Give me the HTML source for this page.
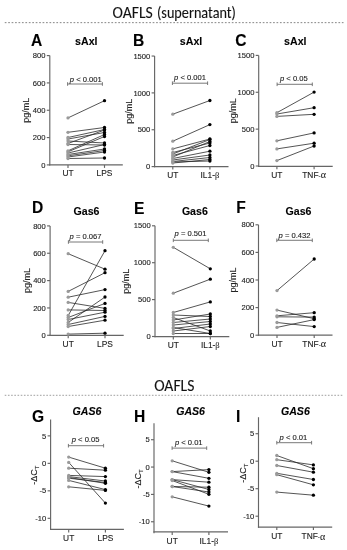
<!DOCTYPE html>
<html><head><meta charset="utf-8"><title>OAFLS figure</title>
<style>
html,body{margin:0;padding:0;background:#fff;}
body{width:347px;height:550px;overflow:hidden;}
svg{display:block;}
text{font-family:"Liberation Sans", Arial, Helvetica, sans-serif;fill:#222;stroke:#222;stroke-width:0.12px;}
.L{font-size:15.6px;font-weight:bold;fill:#000;}
.T{font-size:10.6px;font-weight:bold;text-anchor:middle;fill:#000;}
.Ti{font-size:10.6px;font-weight:bold;font-style:italic;text-anchor:middle;fill:#000;}
.tk{font-size:7.6px;text-anchor:end;}
.xl{font-size:8.4px;text-anchor:middle;}
.yl{font-size:9.0px;text-anchor:middle;}
.gk{font-family:"Liberation Serif",serif;stroke-width:0.05px;}
.pv{font-size:7.6px;text-anchor:middle;}
.hd{font-family:Carlito, Calibri, "Liberation Sans", sans-serif;font-size:15.6px;fill:#111;}
.ax{stroke:#666;stroke-width:1.15;fill:none;}
.br{stroke:#6a6a6a;stroke-width:0.9;fill:none;}
.dl{stroke:#2a2a2a;stroke-width:0.8;}
.du{fill:#9a9a9a;}
.dt{fill:#000;}
.ds{stroke:#777;stroke-width:0.9;stroke-dasharray:1.72 1.72;fill:none;}
.ds2{stroke:#888;stroke-width:0.8;stroke-dasharray:1.6 1.6;fill:none;}
</style></head>
<body><svg width="347" height="550" viewBox="0 0 347 550">
<text x="112.45" y="17.7" class="hd" textLength="40.25" lengthAdjust="spacingAndGlyphs">OAFLS</text>
<text x="157.0" y="17.7" class="hd" textLength="78.9" lengthAdjust="spacingAndGlyphs">(supernatant)</text>
<line x1="4.75" y1="22.65" x2="343.5" y2="22.65" class="ds"/>
<text x="154.15" y="390.75" class="hd" textLength="40.25" lengthAdjust="spacingAndGlyphs">OAFLS</text>
<line x1="4.74" y1="395.3" x2="343.5" y2="395.3" class="ds2"/>
<text x="31.1" y="45.5" class="L">A</text>
<text x="86.3" y="44.6" class="T">sAxl</text>
<line x1="49.8" y1="55.6" x2="49.8" y2="165.47" class="ax"/>
<line x1="46.8" y1="164.9" x2="49.8" y2="164.9" class="ax"/>
<text x="45.5" y="167.55" class="tk">0</text>
<line x1="46.8" y1="137.57" x2="49.8" y2="137.57" class="ax"/>
<text x="45.5" y="140.22" class="tk">200</text>
<line x1="46.8" y1="110.25" x2="49.8" y2="110.25" class="ax"/>
<text x="45.5" y="112.9" class="tk">400</text>
<line x1="46.8" y1="82.92" x2="49.8" y2="82.92" class="ax"/>
<text x="45.5" y="85.58" class="tk">600</text>
<line x1="46.8" y1="55.6" x2="49.8" y2="55.6" class="ax"/>
<text x="45.5" y="58.25" class="tk">800</text>
<line x1="49.22" y1="164.9" x2="122.8" y2="164.9" class="ax"/>
<line x1="68" y1="164.9" x2="68" y2="167.9" class="ax"/>
<line x1="104.5" y1="164.9" x2="104.5" y2="167.9" class="ax"/>
<text x="68" y="176.2" class="xl">UT</text>
<text x="104.5" y="176.2" class="xl">LPS</text>
<text transform="translate(26.45,110.25) rotate(-90)" x="0" y="3" class="yl">pg/mL</text>
<path d="M67.6 82.2V85.8M67.6 84H102.4M102.4 82.2V85.8" class="br"/>
<text x="85.75" y="81.5" class="pv"><tspan font-style="italic">p</tspan> < 0.001</text>
<line x1="68" y1="117.9" x2="104.5" y2="100.7" class="dl"/>
<line x1="68" y1="132.3" x2="104.5" y2="127.5" class="dl"/>
<line x1="68" y1="137.5" x2="104.5" y2="129.5" class="dl"/>
<line x1="68" y1="139" x2="104.5" y2="132.5" class="dl"/>
<line x1="68" y1="141" x2="104.5" y2="143" class="dl"/>
<line x1="68" y1="143.5" x2="104.5" y2="130" class="dl"/>
<line x1="68" y1="144.5" x2="104.5" y2="145" class="dl"/>
<line x1="68" y1="150.8" x2="104.5" y2="134.5" class="dl"/>
<line x1="68" y1="151.8" x2="104.5" y2="136.5" class="dl"/>
<line x1="68" y1="153" x2="104.5" y2="144.5" class="dl"/>
<line x1="68" y1="154.5" x2="104.5" y2="149" class="dl"/>
<line x1="68" y1="155.8" x2="104.5" y2="150.5" class="dl"/>
<line x1="68" y1="157" x2="104.5" y2="152" class="dl"/>
<line x1="68" y1="158.5" x2="104.5" y2="158" class="dl"/>
<circle cx="68" cy="117.9" r="1.65" class="du"/>
<circle cx="68" cy="132.3" r="1.65" class="du"/>
<circle cx="68" cy="137.5" r="1.65" class="du"/>
<circle cx="68" cy="139" r="1.65" class="du"/>
<circle cx="68" cy="141" r="1.65" class="du"/>
<circle cx="68" cy="143.5" r="1.65" class="du"/>
<circle cx="68" cy="144.5" r="1.65" class="du"/>
<circle cx="68" cy="150.8" r="1.65" class="du"/>
<circle cx="68" cy="151.8" r="1.65" class="du"/>
<circle cx="68" cy="153" r="1.65" class="du"/>
<circle cx="68" cy="154.5" r="1.65" class="du"/>
<circle cx="68" cy="155.8" r="1.65" class="du"/>
<circle cx="68" cy="157" r="1.65" class="du"/>
<circle cx="68" cy="158.5" r="1.65" class="du"/>
<circle cx="104.5" cy="100.7" r="1.65" class="dt"/>
<circle cx="104.5" cy="127.5" r="1.65" class="dt"/>
<circle cx="104.5" cy="129.5" r="1.65" class="dt"/>
<circle cx="104.5" cy="132.5" r="1.65" class="dt"/>
<circle cx="104.5" cy="143" r="1.65" class="dt"/>
<circle cx="104.5" cy="130" r="1.65" class="dt"/>
<circle cx="104.5" cy="145" r="1.65" class="dt"/>
<circle cx="104.5" cy="134.5" r="1.65" class="dt"/>
<circle cx="104.5" cy="136.5" r="1.65" class="dt"/>
<circle cx="104.5" cy="144.5" r="1.65" class="dt"/>
<circle cx="104.5" cy="149" r="1.65" class="dt"/>
<circle cx="104.5" cy="150.5" r="1.65" class="dt"/>
<circle cx="104.5" cy="152" r="1.65" class="dt"/>
<circle cx="104.5" cy="158" r="1.65" class="dt"/>
<text x="133.1" y="45.5" class="L">B</text>
<text x="191.05" y="44.6" class="T">sAxl</text>
<line x1="154.6" y1="56.05" x2="154.6" y2="167.17" class="ax"/>
<line x1="151.6" y1="166.6" x2="154.6" y2="166.6" class="ax"/>
<text x="150.3" y="169.25" class="tk">0</text>
<line x1="151.6" y1="129.75" x2="154.6" y2="129.75" class="ax"/>
<text x="150.3" y="132.4" class="tk">500</text>
<line x1="151.6" y1="92.9" x2="154.6" y2="92.9" class="ax"/>
<text x="150.3" y="95.55" class="tk">1000</text>
<line x1="151.6" y1="56.05" x2="154.6" y2="56.05" class="ax"/>
<text x="150.3" y="58.7" class="tk">1500</text>
<line x1="154.03" y1="166.6" x2="228.5" y2="166.6" class="ax"/>
<line x1="172.8" y1="166.6" x2="172.8" y2="169.6" class="ax"/>
<line x1="209.9" y1="166.6" x2="209.9" y2="169.6" class="ax"/>
<text x="172.8" y="177.9" class="xl">UT</text>
<text x="209.9" y="177.9" class="xl">IL1-<tspan class="gk" font-size="8.6">β</tspan></text>
<text transform="translate(128.65,111.32) rotate(-90)" x="0" y="3" class="yl">pg/mL</text>
<path d="M172.4 81.4V85M172.4 83.2H207.6M207.6 81.4V85" class="br"/>
<text x="190.05" y="79.9" class="pv"><tspan font-style="italic">p</tspan> < 0.001</text>
<line x1="172.8" y1="114.2" x2="209.9" y2="100.5" class="dl"/>
<line x1="172.8" y1="141.2" x2="209.9" y2="124.6" class="dl"/>
<line x1="172.8" y1="148.9" x2="209.9" y2="139" class="dl"/>
<line x1="172.8" y1="152.5" x2="209.9" y2="143" class="dl"/>
<line x1="172.8" y1="154" x2="209.9" y2="139.5" class="dl"/>
<line x1="172.8" y1="155.5" x2="209.9" y2="145.5" class="dl"/>
<line x1="172.8" y1="157" x2="209.9" y2="141.5" class="dl"/>
<line x1="172.8" y1="158.5" x2="209.9" y2="151.2" class="dl"/>
<line x1="172.8" y1="160" x2="209.9" y2="155" class="dl"/>
<line x1="172.8" y1="161.5" x2="209.9" y2="157.5" class="dl"/>
<line x1="172.8" y1="163" x2="209.9" y2="159.5" class="dl"/>
<line x1="172.8" y1="162" x2="209.9" y2="161" class="dl"/>
<circle cx="172.8" cy="114.2" r="1.65" class="du"/>
<circle cx="172.8" cy="141.2" r="1.65" class="du"/>
<circle cx="172.8" cy="148.9" r="1.65" class="du"/>
<circle cx="172.8" cy="152.5" r="1.65" class="du"/>
<circle cx="172.8" cy="154" r="1.65" class="du"/>
<circle cx="172.8" cy="155.5" r="1.65" class="du"/>
<circle cx="172.8" cy="157" r="1.65" class="du"/>
<circle cx="172.8" cy="158.5" r="1.65" class="du"/>
<circle cx="172.8" cy="160" r="1.65" class="du"/>
<circle cx="172.8" cy="161.5" r="1.65" class="du"/>
<circle cx="172.8" cy="163" r="1.65" class="du"/>
<circle cx="172.8" cy="162" r="1.65" class="du"/>
<circle cx="209.9" cy="100.5" r="1.65" class="dt"/>
<circle cx="209.9" cy="124.6" r="1.65" class="dt"/>
<circle cx="209.9" cy="139" r="1.65" class="dt"/>
<circle cx="209.9" cy="143" r="1.65" class="dt"/>
<circle cx="209.9" cy="139.5" r="1.65" class="dt"/>
<circle cx="209.9" cy="145.5" r="1.65" class="dt"/>
<circle cx="209.9" cy="141.5" r="1.65" class="dt"/>
<circle cx="209.9" cy="151.2" r="1.65" class="dt"/>
<circle cx="209.9" cy="155" r="1.65" class="dt"/>
<circle cx="209.9" cy="157.5" r="1.65" class="dt"/>
<circle cx="209.9" cy="159.5" r="1.65" class="dt"/>
<circle cx="209.9" cy="161" r="1.65" class="dt"/>
<text x="235.2" y="45.5" class="L">C</text>
<text x="295.3" y="44.6" class="T">sAxl</text>
<line x1="258.7" y1="55.4" x2="258.7" y2="166.88" class="ax"/>
<line x1="255.7" y1="166" x2="258.7" y2="166" class="ax"/>
<text x="254.4" y="168.65" class="tk">0</text>
<line x1="255.7" y1="129.13" x2="258.7" y2="129.13" class="ax"/>
<text x="254.4" y="131.78" class="tk">500</text>
<line x1="255.7" y1="92.27" x2="258.7" y2="92.27" class="ax"/>
<text x="254.4" y="94.92" class="tk">1000</text>
<line x1="255.7" y1="55.4" x2="258.7" y2="55.4" class="ax"/>
<text x="254.4" y="58.05" class="tk">1500</text>
<line x1="258.12" y1="166.3" x2="332.7" y2="166.3" class="ax"/>
<line x1="276.9" y1="166.3" x2="276.9" y2="169.3" class="ax"/>
<line x1="314.1" y1="166.3" x2="314.1" y2="169.3" class="ax"/>
<text x="276.9" y="177.5" class="xl">UT</text>
<text x="314.1" y="177.5" class="xl">TNF<tspan font-size="6.5">-</tspan><tspan class="gk" font-size="10" dy="0.9">α</tspan></text>
<text transform="translate(233,110.7) rotate(-90)" x="0" y="3" class="yl">pg/mL</text>
<path d="M277.1 82.5V86.1M277.1 84.3H312.3M312.3 82.5V86.1" class="br"/>
<text x="293.85" y="80.9" class="pv"><tspan font-style="italic">p</tspan> < 0.05</text>
<line x1="276.9" y1="112.7" x2="314.1" y2="92.1" class="dl"/>
<line x1="276.9" y1="114" x2="314.1" y2="107.7" class="dl"/>
<line x1="276.9" y1="116.4" x2="314.1" y2="114.3" class="dl"/>
<line x1="276.9" y1="140.8" x2="314.1" y2="132.9" class="dl"/>
<line x1="276.9" y1="148.9" x2="314.1" y2="143.2" class="dl"/>
<line x1="276.9" y1="160.6" x2="314.1" y2="146" class="dl"/>
<circle cx="276.9" cy="112.7" r="1.65" class="du"/>
<circle cx="276.9" cy="114" r="1.65" class="du"/>
<circle cx="276.9" cy="116.4" r="1.65" class="du"/>
<circle cx="276.9" cy="140.8" r="1.65" class="du"/>
<circle cx="276.9" cy="148.9" r="1.65" class="du"/>
<circle cx="276.9" cy="160.6" r="1.65" class="du"/>
<circle cx="314.1" cy="92.1" r="1.65" class="dt"/>
<circle cx="314.1" cy="107.7" r="1.65" class="dt"/>
<circle cx="314.1" cy="114.3" r="1.65" class="dt"/>
<circle cx="314.1" cy="132.9" r="1.65" class="dt"/>
<circle cx="314.1" cy="143.2" r="1.65" class="dt"/>
<circle cx="314.1" cy="146" r="1.65" class="dt"/>
<text x="32" y="213.4" class="L">D</text>
<text x="86.5" y="214.6" class="T">Gas6</text>
<line x1="50.1" y1="225.9" x2="50.1" y2="335.88" class="ax"/>
<line x1="47.1" y1="335.3" x2="50.1" y2="335.3" class="ax"/>
<text x="45.8" y="337.95" class="tk">0</text>
<line x1="47.1" y1="307.95" x2="50.1" y2="307.95" class="ax"/>
<text x="45.8" y="310.6" class="tk">200</text>
<line x1="47.1" y1="280.6" x2="50.1" y2="280.6" class="ax"/>
<text x="45.8" y="283.25" class="tk">400</text>
<line x1="47.1" y1="253.25" x2="50.1" y2="253.25" class="ax"/>
<text x="45.8" y="255.9" class="tk">600</text>
<line x1="47.1" y1="225.9" x2="50.1" y2="225.9" class="ax"/>
<text x="45.8" y="228.55" class="tk">800</text>
<line x1="49.52" y1="335.3" x2="123.7" y2="335.3" class="ax"/>
<line x1="68.2" y1="335.3" x2="68.2" y2="338.3" class="ax"/>
<line x1="105" y1="335.3" x2="105" y2="338.3" class="ax"/>
<text x="68.2" y="346.7" class="xl">UT</text>
<text x="105" y="346.7" class="xl">LPS</text>
<text transform="translate(27.1,280.6) rotate(-90)" x="0" y="3" class="yl">pg/mL</text>
<path d="M68.4 240.2V243.8M68.4 242H102.7M102.7 240.2V243.8" class="br"/>
<text x="85.55" y="238.6" class="pv"><tspan font-style="italic">p</tspan> = 0.067</text>
<line x1="68.2" y1="253.7" x2="105" y2="269.2" class="dl"/>
<line x1="68.2" y1="291.4" x2="105" y2="272.7" class="dl"/>
<line x1="68.2" y1="297.2" x2="105" y2="289.6" class="dl"/>
<line x1="68.2" y1="302.4" x2="105" y2="308.4" class="dl"/>
<line x1="68.2" y1="309.9" x2="105" y2="310.5" class="dl"/>
<line x1="68.2" y1="315.5" x2="105" y2="250.7" class="dl"/>
<line x1="68.2" y1="317.5" x2="105" y2="303.4" class="dl"/>
<line x1="68.2" y1="319.5" x2="105" y2="312.2" class="dl"/>
<line x1="68.2" y1="322.5" x2="105" y2="297" class="dl"/>
<line x1="68.2" y1="324.5" x2="105" y2="316.4" class="dl"/>
<line x1="68.2" y1="326.5" x2="105" y2="320.2" class="dl"/>
<line x1="68.2" y1="334.1" x2="105" y2="333.2" class="dl"/>
<circle cx="68.2" cy="253.7" r="1.65" class="du"/>
<circle cx="68.2" cy="291.4" r="1.65" class="du"/>
<circle cx="68.2" cy="297.2" r="1.65" class="du"/>
<circle cx="68.2" cy="302.4" r="1.65" class="du"/>
<circle cx="68.2" cy="309.9" r="1.65" class="du"/>
<circle cx="68.2" cy="315.5" r="1.65" class="du"/>
<circle cx="68.2" cy="317.5" r="1.65" class="du"/>
<circle cx="68.2" cy="319.5" r="1.65" class="du"/>
<circle cx="68.2" cy="322.5" r="1.65" class="du"/>
<circle cx="68.2" cy="324.5" r="1.65" class="du"/>
<circle cx="68.2" cy="326.5" r="1.65" class="du"/>
<circle cx="68.2" cy="334.1" r="1.65" class="du"/>
<circle cx="105" cy="269.2" r="1.65" class="dt"/>
<circle cx="105" cy="272.7" r="1.65" class="dt"/>
<circle cx="105" cy="289.6" r="1.65" class="dt"/>
<circle cx="105" cy="308.4" r="1.65" class="dt"/>
<circle cx="105" cy="310.5" r="1.65" class="dt"/>
<circle cx="105" cy="250.7" r="1.65" class="dt"/>
<circle cx="105" cy="303.4" r="1.65" class="dt"/>
<circle cx="105" cy="312.2" r="1.65" class="dt"/>
<circle cx="105" cy="297" r="1.65" class="dt"/>
<circle cx="105" cy="316.4" r="1.65" class="dt"/>
<circle cx="105" cy="320.2" r="1.65" class="dt"/>
<circle cx="105" cy="333.2" r="1.65" class="dt"/>
<text x="134.1" y="213.5" class="L">E</text>
<text x="194.85" y="214.6" class="T">Gas6</text>
<line x1="155" y1="225.8" x2="155" y2="337.18" class="ax"/>
<line x1="152" y1="336.5" x2="155" y2="336.5" class="ax"/>
<text x="150.7" y="339.15" class="tk">0</text>
<line x1="152" y1="299.6" x2="155" y2="299.6" class="ax"/>
<text x="150.7" y="302.25" class="tk">500</text>
<line x1="152" y1="262.7" x2="155" y2="262.7" class="ax"/>
<text x="150.7" y="265.35" class="tk">1000</text>
<line x1="152" y1="225.8" x2="155" y2="225.8" class="ax"/>
<text x="150.7" y="228.45" class="tk">1500</text>
<line x1="154.43" y1="336.6" x2="229.3" y2="336.6" class="ax"/>
<line x1="173.3" y1="336.6" x2="173.3" y2="339.6" class="ax"/>
<line x1="210.3" y1="336.6" x2="210.3" y2="339.6" class="ax"/>
<text x="173.3" y="347.6" class="xl">UT</text>
<text x="210.3" y="347.6" class="xl">IL1-<tspan class="gk" font-size="8.6">β</tspan></text>
<text transform="translate(126.25,281.15) rotate(-90)" x="0" y="3" class="yl">pg/mL</text>
<path d="M173.3 238.5V242.1M173.3 240.3H208.3M208.3 238.5V242.1" class="br"/>
<text x="190.5" y="236.4" class="pv"><tspan font-style="italic">p</tspan> = 0.501</text>
<line x1="173.3" y1="247.3" x2="210.3" y2="268.8" class="dl"/>
<line x1="173.3" y1="293.2" x2="210.3" y2="279.2" class="dl"/>
<line x1="173.3" y1="312.5" x2="210.3" y2="301.9" class="dl"/>
<line x1="173.3" y1="315" x2="210.3" y2="316.5" class="dl"/>
<line x1="173.3" y1="317.5" x2="210.3" y2="331" class="dl"/>
<line x1="173.3" y1="320" x2="210.3" y2="314" class="dl"/>
<line x1="173.3" y1="322.5" x2="210.3" y2="319" class="dl"/>
<line x1="173.3" y1="325" x2="210.3" y2="321.5" class="dl"/>
<line x1="173.3" y1="327.5" x2="210.3" y2="333.5" class="dl"/>
<line x1="173.3" y1="328.5" x2="210.3" y2="324" class="dl"/>
<line x1="173.3" y1="331" x2="210.3" y2="326.5" class="dl"/>
<line x1="173.3" y1="333.5" x2="210.3" y2="333.5" class="dl"/>
<circle cx="173.3" cy="247.3" r="1.65" class="du"/>
<circle cx="173.3" cy="293.2" r="1.65" class="du"/>
<circle cx="173.3" cy="312.5" r="1.65" class="du"/>
<circle cx="173.3" cy="315" r="1.65" class="du"/>
<circle cx="173.3" cy="317.5" r="1.65" class="du"/>
<circle cx="173.3" cy="320" r="1.65" class="du"/>
<circle cx="173.3" cy="322.5" r="1.65" class="du"/>
<circle cx="173.3" cy="325" r="1.65" class="du"/>
<circle cx="173.3" cy="327.5" r="1.65" class="du"/>
<circle cx="173.3" cy="328.5" r="1.65" class="du"/>
<circle cx="173.3" cy="331" r="1.65" class="du"/>
<circle cx="173.3" cy="333.5" r="1.65" class="du"/>
<circle cx="210.3" cy="268.8" r="1.65" class="dt"/>
<circle cx="210.3" cy="279.2" r="1.65" class="dt"/>
<circle cx="210.3" cy="301.9" r="1.65" class="dt"/>
<circle cx="210.3" cy="316.5" r="1.65" class="dt"/>
<circle cx="210.3" cy="331" r="1.65" class="dt"/>
<circle cx="210.3" cy="314" r="1.65" class="dt"/>
<circle cx="210.3" cy="319" r="1.65" class="dt"/>
<circle cx="210.3" cy="321.5" r="1.65" class="dt"/>
<circle cx="210.3" cy="333.5" r="1.65" class="dt"/>
<circle cx="210.3" cy="324" r="1.65" class="dt"/>
<circle cx="210.3" cy="326.5" r="1.65" class="dt"/>
<circle cx="210.3" cy="333.5" r="1.65" class="dt"/>
<text x="236.2" y="213.4" class="L">F</text>
<text x="298.5" y="214.5" class="T">Gas6</text>
<line x1="258.5" y1="224.8" x2="258.5" y2="335.77" class="ax"/>
<line x1="255.5" y1="335.2" x2="258.5" y2="335.2" class="ax"/>
<text x="254.2" y="337.85" class="tk">0</text>
<line x1="255.5" y1="307.6" x2="258.5" y2="307.6" class="ax"/>
<text x="254.2" y="310.25" class="tk">200</text>
<line x1="255.5" y1="280" x2="258.5" y2="280" class="ax"/>
<text x="254.2" y="282.65" class="tk">400</text>
<line x1="255.5" y1="252.4" x2="258.5" y2="252.4" class="ax"/>
<text x="254.2" y="255.05" class="tk">600</text>
<line x1="255.5" y1="224.8" x2="258.5" y2="224.8" class="ax"/>
<text x="254.2" y="227.45" class="tk">800</text>
<line x1="257.93" y1="335.1" x2="332.5" y2="335.1" class="ax"/>
<line x1="277" y1="335.1" x2="277" y2="338.1" class="ax"/>
<line x1="314.2" y1="335.1" x2="314.2" y2="338.1" class="ax"/>
<text x="277" y="346.5" class="xl">UT</text>
<text x="314.2" y="346.5" class="xl">TNF<tspan font-size="6.5">-</tspan><tspan class="gk" font-size="10" dy="0.9">α</tspan></text>
<text transform="translate(232.85,280) rotate(-90)" x="0" y="3" class="yl">pg/mL</text>
<path d="M276.8 238.5V242.1M276.8 240.3H312.3M312.3 238.5V242.1" class="br"/>
<text x="294.5" y="237.9" class="pv"><tspan font-style="italic">p</tspan> = 0.432</text>
<line x1="277" y1="290.6" x2="314.2" y2="259" class="dl"/>
<line x1="277" y1="310.1" x2="314.2" y2="318.7" class="dl"/>
<line x1="277" y1="315.8" x2="314.2" y2="312.7" class="dl"/>
<line x1="277" y1="316.8" x2="314.2" y2="317.1" class="dl"/>
<line x1="277" y1="322.5" x2="314.2" y2="326.6" class="dl"/>
<line x1="277" y1="327.4" x2="314.2" y2="319.6" class="dl"/>
<circle cx="277" cy="290.6" r="1.65" class="du"/>
<circle cx="277" cy="310.1" r="1.65" class="du"/>
<circle cx="277" cy="315.8" r="1.65" class="du"/>
<circle cx="277" cy="316.8" r="1.65" class="du"/>
<circle cx="277" cy="322.5" r="1.65" class="du"/>
<circle cx="277" cy="327.4" r="1.65" class="du"/>
<circle cx="314.2" cy="259" r="1.65" class="dt"/>
<circle cx="314.2" cy="318.7" r="1.65" class="dt"/>
<circle cx="314.2" cy="312.7" r="1.65" class="dt"/>
<circle cx="314.2" cy="317.1" r="1.65" class="dt"/>
<circle cx="314.2" cy="326.6" r="1.65" class="dt"/>
<circle cx="314.2" cy="319.6" r="1.65" class="dt"/>
<text x="32" y="422.3" class="L">G</text>
<text x="87" y="414.5" class="Ti">GAS6</text>
<line x1="50.6" y1="419.4" x2="50.6" y2="529.98" class="ax"/>
<line x1="47.6" y1="518.31" x2="50.6" y2="518.31" class="ax"/>
<text x="46.3" y="520.96" class="tk">-10</text>
<line x1="47.6" y1="490.83" x2="50.6" y2="490.83" class="ax"/>
<text x="46.3" y="493.48" class="tk">-5</text>
<line x1="47.6" y1="463.36" x2="50.6" y2="463.36" class="ax"/>
<text x="46.3" y="466.01" class="tk">0</text>
<line x1="47.6" y1="435.88" x2="50.6" y2="435.88" class="ax"/>
<text x="46.3" y="438.53" class="tk">5</text>
<line x1="50.02" y1="529.4" x2="123.9" y2="529.4" class="ax"/>
<line x1="68.7" y1="529.4" x2="68.7" y2="532.4" class="ax"/>
<line x1="105.4" y1="529.4" x2="105.4" y2="532.4" class="ax"/>
<text x="68.7" y="540.5" class="xl">UT</text>
<text x="105.4" y="540.5" class="xl">LPS</text>
<text transform="translate(33.5,475.2) rotate(-90)" x="0" y="3" class="yl">-ΔC<tspan dy="2" font-size="6">T</tspan></text>
<path d="M68.4 443.9V447.5M68.4 445.7H103.6M103.6 443.9V447.5" class="br"/>
<text x="85.6" y="441.9" class="pv"><tspan font-style="italic">p</tspan> < 0.05</text>
<line x1="68.7" y1="457.1" x2="105.4" y2="468.2" class="dl"/>
<line x1="68.7" y1="462.4" x2="105.4" y2="503.1" class="dl"/>
<line x1="68.7" y1="468.2" x2="105.4" y2="470.2" class="dl"/>
<line x1="68.7" y1="475.4" x2="105.4" y2="476.6" class="dl"/>
<line x1="68.7" y1="476.6" x2="105.4" y2="481" class="dl"/>
<line x1="68.7" y1="477.5" x2="105.4" y2="483.3" class="dl"/>
<line x1="68.7" y1="478.2" x2="105.4" y2="482.5" class="dl"/>
<line x1="68.7" y1="480.4" x2="105.4" y2="489.6" class="dl"/>
<line x1="68.7" y1="486.8" x2="105.4" y2="490.4" class="dl"/>
<circle cx="68.7" cy="457.1" r="1.65" class="du"/>
<circle cx="68.7" cy="462.4" r="1.65" class="du"/>
<circle cx="68.7" cy="468.2" r="1.65" class="du"/>
<circle cx="68.7" cy="475.4" r="1.65" class="du"/>
<circle cx="68.7" cy="476.6" r="1.65" class="du"/>
<circle cx="68.7" cy="477.5" r="1.65" class="du"/>
<circle cx="68.7" cy="478.2" r="1.65" class="du"/>
<circle cx="68.7" cy="480.4" r="1.65" class="du"/>
<circle cx="68.7" cy="486.8" r="1.65" class="du"/>
<circle cx="105.4" cy="468.2" r="1.65" class="dt"/>
<circle cx="105.4" cy="503.1" r="1.65" class="dt"/>
<circle cx="105.4" cy="470.2" r="1.65" class="dt"/>
<circle cx="105.4" cy="476.6" r="1.65" class="dt"/>
<circle cx="105.4" cy="481" r="1.65" class="dt"/>
<circle cx="105.4" cy="483.3" r="1.65" class="dt"/>
<circle cx="105.4" cy="482.5" r="1.65" class="dt"/>
<circle cx="105.4" cy="489.6" r="1.65" class="dt"/>
<circle cx="105.4" cy="490.4" r="1.65" class="dt"/>
<text x="134.1" y="422.4" class="L">H</text>
<text x="190.6" y="414.5" class="Ti">GAS6</text>
<line x1="154" y1="423.3" x2="154" y2="533.28" class="ax"/>
<line x1="151" y1="521.76" x2="154" y2="521.76" class="ax"/>
<text x="149.7" y="524.41" class="tk">-10</text>
<line x1="151" y1="494.41" x2="154" y2="494.41" class="ax"/>
<text x="149.7" y="497.06" class="tk">-5</text>
<line x1="151" y1="467.06" x2="154" y2="467.06" class="ax"/>
<text x="149.7" y="469.71" class="tk">0</text>
<line x1="151" y1="439.71" x2="154" y2="439.71" class="ax"/>
<text x="149.7" y="442.36" class="tk">5</text>
<line x1="153.43" y1="531.9" x2="228" y2="531.9" class="ax"/>
<line x1="172.2" y1="531.9" x2="172.2" y2="534.9" class="ax"/>
<line x1="208.9" y1="531.9" x2="208.9" y2="534.9" class="ax"/>
<text x="172.2" y="543.8" class="xl">UT</text>
<text x="208.9" y="543.8" class="xl">IL1-<tspan class="gk" font-size="8.6">β</tspan></text>
<text transform="translate(138.1,478.85) rotate(-90)" x="0" y="3" class="yl">-ΔC<tspan dy="2" font-size="6">T</tspan></text>
<path d="M172.1 446.3V449.9M172.1 448.1H206.7M206.7 446.3V449.9" class="br"/>
<text x="188.75" y="444.6" class="pv"><tspan font-style="italic">p</tspan> < 0.01</text>
<line x1="172.2" y1="460.8" x2="208.9" y2="472.3" class="dl"/>
<line x1="172.2" y1="471.6" x2="208.9" y2="469.6" class="dl"/>
<line x1="172.2" y1="471.6" x2="208.9" y2="478.3" class="dl"/>
<line x1="172.2" y1="479.6" x2="208.9" y2="482.2" class="dl"/>
<line x1="172.2" y1="479.6" x2="208.9" y2="489.5" class="dl"/>
<line x1="172.2" y1="480.5" x2="208.9" y2="494.3" class="dl"/>
<line x1="172.2" y1="486.5" x2="208.9" y2="487.2" class="dl"/>
<line x1="172.2" y1="486.5" x2="208.9" y2="492" class="dl"/>
<line x1="172.2" y1="496.8" x2="208.9" y2="506.1" class="dl"/>
<circle cx="172.2" cy="460.8" r="1.65" class="du"/>
<circle cx="172.2" cy="471.6" r="1.65" class="du"/>
<circle cx="172.2" cy="471.6" r="1.65" class="du"/>
<circle cx="172.2" cy="479.6" r="1.65" class="du"/>
<circle cx="172.2" cy="479.6" r="1.65" class="du"/>
<circle cx="172.2" cy="480.5" r="1.65" class="du"/>
<circle cx="172.2" cy="486.5" r="1.65" class="du"/>
<circle cx="172.2" cy="486.5" r="1.65" class="du"/>
<circle cx="172.2" cy="496.8" r="1.65" class="du"/>
<circle cx="208.9" cy="472.3" r="1.65" class="dt"/>
<circle cx="208.9" cy="469.6" r="1.65" class="dt"/>
<circle cx="208.9" cy="478.3" r="1.65" class="dt"/>
<circle cx="208.9" cy="482.2" r="1.65" class="dt"/>
<circle cx="208.9" cy="489.5" r="1.65" class="dt"/>
<circle cx="208.9" cy="494.3" r="1.65" class="dt"/>
<circle cx="208.9" cy="487.2" r="1.65" class="dt"/>
<circle cx="208.9" cy="492" r="1.65" class="dt"/>
<circle cx="208.9" cy="506.1" r="1.65" class="dt"/>
<text x="236.1" y="422.3" class="L">I</text>
<text x="295.4" y="414.5" class="Ti">GAS6</text>
<line x1="258.5" y1="417.2" x2="258.5" y2="527.78" class="ax"/>
<line x1="255.5" y1="516.2" x2="258.5" y2="516.2" class="ax"/>
<text x="254.2" y="518.85" class="tk">-10</text>
<line x1="255.5" y1="488.7" x2="258.5" y2="488.7" class="ax"/>
<text x="254.2" y="491.35" class="tk">-5</text>
<line x1="255.5" y1="461.2" x2="258.5" y2="461.2" class="ax"/>
<text x="254.2" y="463.85" class="tk">0</text>
<line x1="255.5" y1="433.7" x2="258.5" y2="433.7" class="ax"/>
<text x="254.2" y="436.35" class="tk">5</text>
<line x1="257.93" y1="527.1" x2="332.2" y2="527.1" class="ax"/>
<line x1="276.8" y1="527.1" x2="276.8" y2="530.1" class="ax"/>
<line x1="313.4" y1="527.1" x2="313.4" y2="530.1" class="ax"/>
<text x="276.8" y="538.9" class="xl">UT</text>
<text x="313.4" y="538.9" class="xl">TNF<tspan font-size="6.5">-</tspan><tspan class="gk" font-size="10" dy="0.9">α</tspan></text>
<text transform="translate(242.5,473.15) rotate(-90)" x="0" y="3" class="yl">-ΔC<tspan dy="2" font-size="6">T</tspan></text>
<path d="M276.8 440.9V444.5M276.8 442.7H311.6M311.6 440.9V444.5" class="br"/>
<text x="293.4" y="439.5" class="pv"><tspan font-style="italic">p</tspan> < 0.01</text>
<line x1="276.8" y1="455.5" x2="313.4" y2="468.7" class="dl"/>
<line x1="276.8" y1="459.7" x2="313.4" y2="464.9" class="dl"/>
<line x1="276.8" y1="465.5" x2="313.4" y2="472.2" class="dl"/>
<line x1="276.8" y1="473.3" x2="313.4" y2="479.5" class="dl"/>
<line x1="276.8" y1="474.7" x2="313.4" y2="484.8" class="dl"/>
<line x1="276.8" y1="492.1" x2="313.4" y2="495.2" class="dl"/>
<circle cx="276.8" cy="455.5" r="1.65" class="du"/>
<circle cx="276.8" cy="459.7" r="1.65" class="du"/>
<circle cx="276.8" cy="465.5" r="1.65" class="du"/>
<circle cx="276.8" cy="473.3" r="1.65" class="du"/>
<circle cx="276.8" cy="474.7" r="1.65" class="du"/>
<circle cx="276.8" cy="492.1" r="1.65" class="du"/>
<circle cx="313.4" cy="468.7" r="1.65" class="dt"/>
<circle cx="313.4" cy="464.9" r="1.65" class="dt"/>
<circle cx="313.4" cy="472.2" r="1.65" class="dt"/>
<circle cx="313.4" cy="479.5" r="1.65" class="dt"/>
<circle cx="313.4" cy="484.8" r="1.65" class="dt"/>
<circle cx="313.4" cy="495.2" r="1.65" class="dt"/>
</svg></body></html>
